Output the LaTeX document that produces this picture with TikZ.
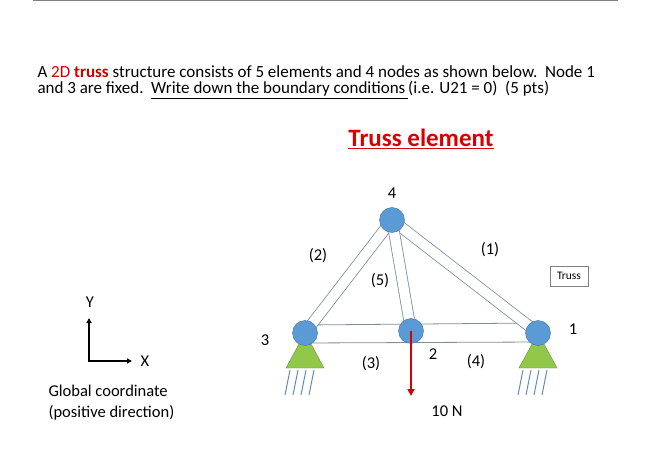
\documentclass[tikz,border=0pt]{standalone}
\usepackage{fontspec}
\setmainfont{Carlito}
\usetikzlibrary{arrows.meta}
\definecolor{jblue}{HTML}{5B9BD5}
\definecolor{jedge}{HTML}{41719C}
\definecolor{sgreen}{HTML}{92C84A}
\definecolor{barc}{HTML}{7F8C9A}
\begin{document}
\begin{tikzpicture}[x=1pt,y=-1pt,
  bar/.style={draw=white,line width=10pt,preaction={draw=barc,line width=11.6pt}},
  joint/.style={circle,fill=jblue,draw=jedge,minimum size=25pt,inner sep=0pt},
  lbl/.style={font=\fontsize{16.5}{19}\selectfont},
  sup/.style={fill=sgreen,draw=sgreen!70!black},
  hatch/.style={draw=jedge!80,line width=1pt}]
\useasboundingbox (0,0) rectangle (651,449);
\draw[gray,line width=1.5pt] (33,0) -- (618,0);
\node[anchor=west,font=\fontsize{17}{19}\selectfont] (p1) at (34,72) {A \textcolor{red!80!black}{2D \textbf{truss}} structure consists of 5 elements and 4 nodes as shown below.\ \ Node 1};
\node[anchor=west,font=\fontsize{17}{19}\selectfont] (p2) at (34,90) {and 3 are fixed.\ \ \underline{Write down the boundary conditions\,}(i.e. U21 = 0)\ \ (5 pts)};
\node[font=\fontsize{25}{28}\selectfont\bfseries,text=red!85!black] (title) at (421,139) {\underline{Truss element}};
% geometry
\coordinate (n3) at (305,333); \coordinate (n2) at (411,331);
\coordinate (n1) at (538,333); \coordinate (n4) at (392,220);
% bottom band
\fill[white] (305,325) rectangle (538,343);
\draw[barc,line width=0.8pt] (305,325) -- (538,323) (305,343) -- (538,342);
\draw[bar] (n3) -- (n4);
\draw[bar] (n4) -- (n1);
\draw[bar] (n4) -- (n2);
% supports
\foreach \x/\n in {305/s3,538/s1}{
  \draw[sup] (\x,333) -- (\x-19,368) -- (\x+19,368) -- cycle;
  \foreach \d in {-15,-7,1,9} \draw[hatch] (\x+\d,370) -- (\x+\d-5,395);
}
\node[joint] (j3) at (n3) {};
\node[joint] (j2) at (n2) {};
\node[joint] (j1) at (n1) {};
\node[joint] (j4) at (n4) {};
\coordinate (fend) at (411,396);
\draw[red!85!black,line width=2pt,-{Triangle[length=7pt,width=7pt]}] (j2.center) -- (fend);
\node[lbl] (l4) at (392,193) {4};
\node[lbl] (e2) at (318,256) {(2)};
\node[lbl] (e5) at (380,281) {(5)};
\node[lbl] (e1) at (490,250) {(1)};
\node[draw=gray,font=\fontsize{11.5}{13}\selectfont,inner sep=3pt,minimum width=38pt,minimum height=20pt] (tr) at (569,276) {Truss};
\node[lbl] (l1) at (573,329) {1};
\node[lbl] (l3) at (265,340) {3};
\node[lbl] (e3) at (371,364) {(3)};
\node[lbl] (l2) at (433,354) {2};
\node[lbl] (e4) at (476,362) {(4)};
\node[lbl] (f) at (447,411) {10 N};
% axes
\coordinate (o) at (89,361); \coordinate (ya) at (89,318); \coordinate (xa) at (132,361);
\draw[line width=1.3pt,-{Triangle[length=5pt,width=5pt]}] (o) -- (ya);
\draw[line width=1.3pt,-{Triangle[length=5pt,width=5pt]}] ([xshift=-0.65pt]o) -- (xa);
\node[lbl] (Y) at (90,302) {Y};
\node[lbl] (X) at (145,361) {X};
\node[lbl,anchor=west] (g1) at (45,391) {Global coordinate};
\node[lbl,anchor=west] (g2) at (45,413) {(positive direction)};
\end{tikzpicture}
\end{document}
